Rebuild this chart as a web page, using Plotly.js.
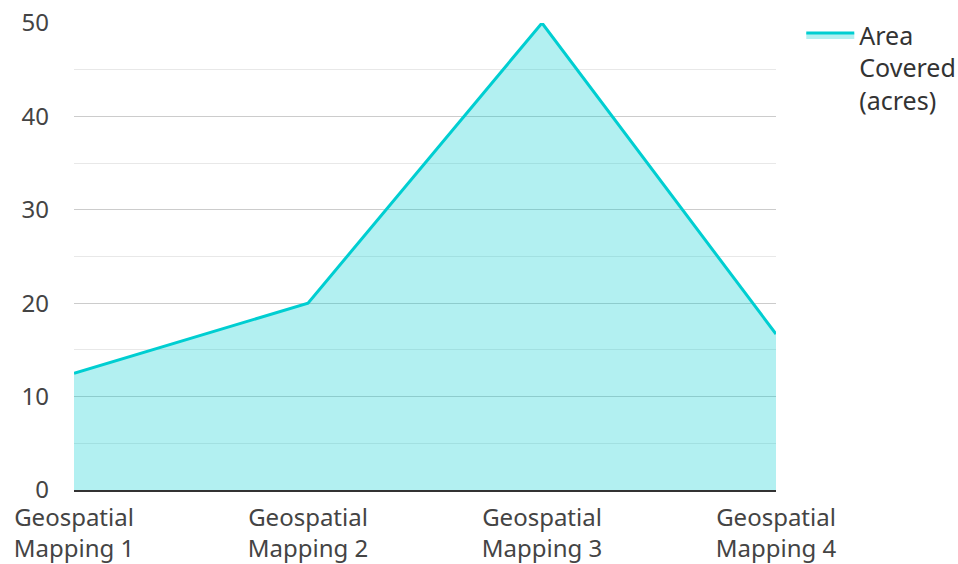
<!DOCTYPE html>
<html><head><meta charset="utf-8">
<script src="https://cdn.plot.ly/plotly-3.0.1.min.js"></script>
<style>html,body{margin:0;padding:0;background:#fff}#chart{width:958px;height:564px}</style>
</head><body><div id="chart"></div>
<script>
const categories = ["Geospatial<br>Mapping 1", "Geospatial<br>Mapping 2", "Geospatial<br>Mapping 3", "Geospatial<br>Mapping 4"];
const areaCovered = [12.5, 20, 50, 16.7];
const seriesName = "Area<br>Covered<br>(acres)";

const trace = {
  type: 'scatter', mode: 'lines', x: categories, y: areaCovered, name: seriesName,
  fill: 'tozeroy', fillcolor: 'rgba(0,206,209,0.3)',
  line: {color: '#00CED1', width: 3}
};
const layout = {
  width: 958, height: 564,
  margin: {l: 74, r: 182, t: 23, b: 74, autoexpand: false},
  paper_bgcolor: '#fff', plot_bgcolor: '#fff',
  font: {family: '"Noto Sans", "Open Sans", sans-serif', size: 24, color: '#444'},
  showlegend: true,
  legend: {x: 1.036, y: 1.023, xanchor: 'left', yanchor: 'top', valign: 'top', itemwidth: 48,
           font: {size: 25, color: '#333'}},
  xaxis: {type: 'category', range: [0, 3], showgrid: false, showline: true, linecolor: '#333', linewidth: 2,
          ticks: '', ticklabelstandoff: 5, tickfont: {size: 24, color: '#444'}},
  yaxis: {range: [0, 50], dtick: 10, showgrid: true, gridcolor: '#cccccc', gridwidth: 1,
          zeroline: false, ticks: '', ticklabelstandoff: 24, tickfont: {size: 24, color: '#444'},
          minor: {dtick: 5, showgrid: true, gridcolor: '#e8e8e8', gridwidth: 1}}
};
Plotly.newPlot('chart', [trace], layout, {displayModeBar: false});
</script></body></html>
